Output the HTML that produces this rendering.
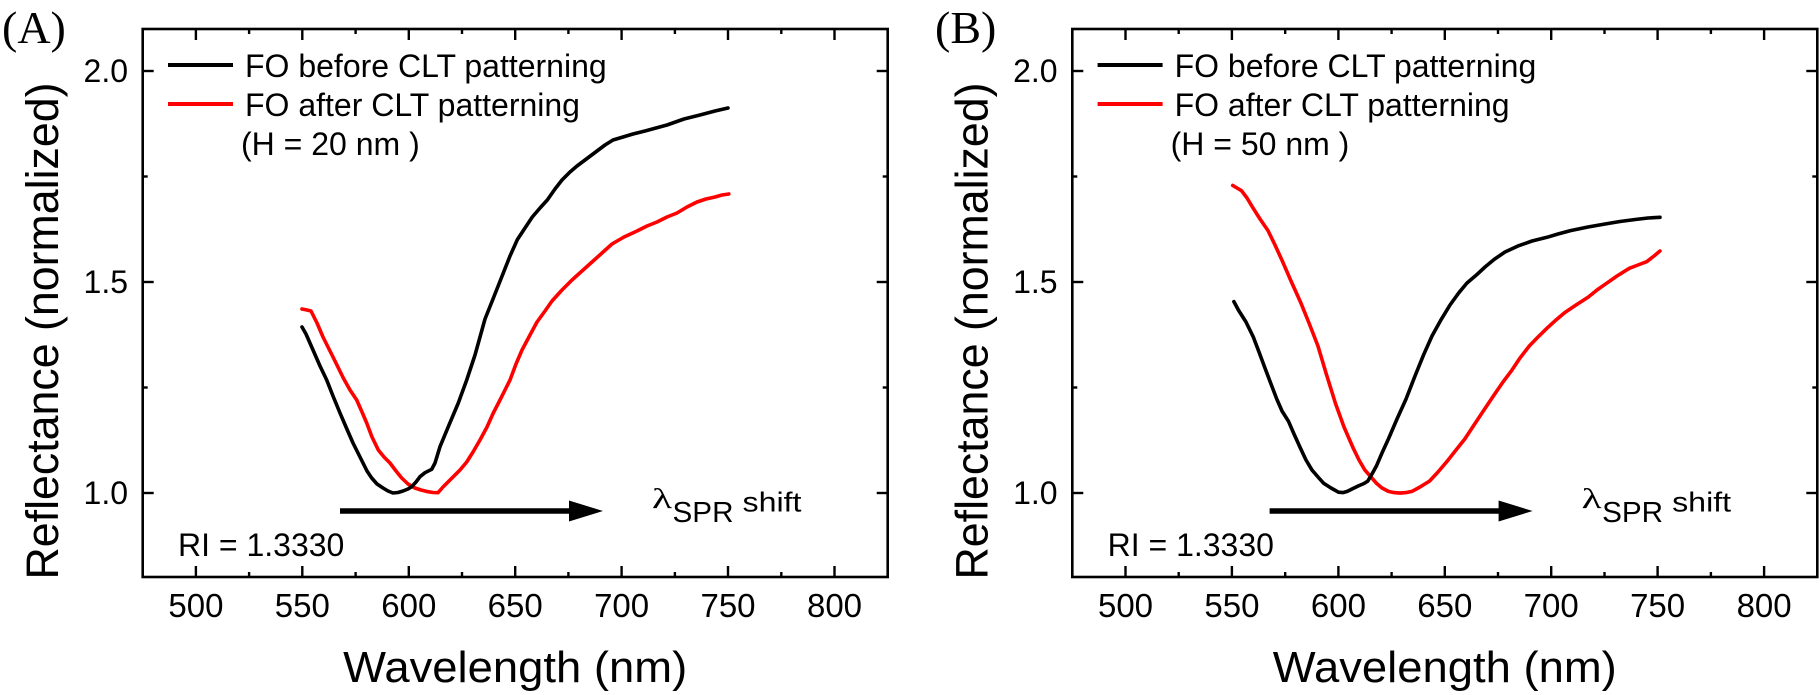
<!DOCTYPE html>
<html>
<head>
<meta charset="utf-8">
<style>
  html, body { margin:0; padding:0; background:#fff; }
  svg { display:block; }
  .s { font-family: "Liberation Sans", Arial, sans-serif; fill:#000; }
  .serif { font-family: "Liberation Serif", "Times New Roman", serif; fill:#000; }
</style>
</head>
<body>
<svg width="1820" height="695" viewBox="0 0 1820 695" xmlns="http://www.w3.org/2000/svg">
  <rect x="0" y="0" width="1820" height="695" fill="#fff"/>

  <!-- ================= PANEL A ================= -->
  <g>
    <text class="serif" x="2" y="43" font-size="46">(A)</text>
    <rect x="142.7" y="29" width="745" height="548" fill="none" stroke="#000" stroke-width="2.6"/>
    <g stroke="#000" stroke-width="2.4">
      <line x1="195.9" y1="577" x2="195.9" y2="566"/>
      <line x1="249.1" y1="577" x2="249.1" y2="572"/>
      <line x1="302.3" y1="577" x2="302.3" y2="566"/>
      <line x1="355.6" y1="577" x2="355.6" y2="572"/>
      <line x1="408.8" y1="577" x2="408.8" y2="566"/>
      <line x1="462.0" y1="577" x2="462.0" y2="572"/>
      <line x1="515.2" y1="577" x2="515.2" y2="566"/>
      <line x1="568.4" y1="577" x2="568.4" y2="572"/>
      <line x1="621.6" y1="577" x2="621.6" y2="566"/>
      <line x1="674.9" y1="577" x2="674.9" y2="572"/>
      <line x1="728.0" y1="577" x2="728.0" y2="566"/>
      <line x1="781.3" y1="577" x2="781.3" y2="572"/>
      <line x1="834.5" y1="577" x2="834.5" y2="566"/>
      <line x1="195.9" y1="29" x2="195.9" y2="40"/>
      <line x1="249.1" y1="29" x2="249.1" y2="34"/>
      <line x1="302.3" y1="29" x2="302.3" y2="40"/>
      <line x1="355.6" y1="29" x2="355.6" y2="34"/>
      <line x1="408.8" y1="29" x2="408.8" y2="40"/>
      <line x1="462.0" y1="29" x2="462.0" y2="34"/>
      <line x1="515.2" y1="29" x2="515.2" y2="40"/>
      <line x1="568.4" y1="29" x2="568.4" y2="34"/>
      <line x1="621.6" y1="29" x2="621.6" y2="40"/>
      <line x1="674.9" y1="29" x2="674.9" y2="34"/>
      <line x1="728.0" y1="29" x2="728.0" y2="40"/>
      <line x1="781.3" y1="29" x2="781.3" y2="34"/>
      <line x1="834.5" y1="29" x2="834.5" y2="40"/>
      <line x1="142.7" y1="493" x2="153.7" y2="493"/>
      <line x1="142.7" y1="387.5" x2="147.7" y2="387.5"/>
      <line x1="142.7" y1="282" x2="153.7" y2="282"/>
      <line x1="142.7" y1="176.5" x2="147.7" y2="176.5"/>
      <line x1="142.7" y1="71" x2="153.7" y2="71"/>
      <line x1="887.7" y1="493" x2="876.7" y2="493"/>
      <line x1="887.7" y1="387.5" x2="882.7" y2="387.5"/>
      <line x1="887.7" y1="282" x2="876.7" y2="282"/>
      <line x1="887.7" y1="176.5" x2="882.7" y2="176.5"/>
      <line x1="887.7" y1="71" x2="876.7" y2="71"/>
    </g>
    <g class="s" font-size="33" text-anchor="middle">
      <text x="195.9" y="617">500</text>
      <text x="302.3" y="617">550</text>
      <text x="408.8" y="617">600</text>
      <text x="515.2" y="617">650</text>
      <text x="621.6" y="617">700</text>
      <text x="728.0" y="617">750</text>
      <text x="834.5" y="617">800</text>
    </g>
    <g class="s" font-size="32" text-anchor="end">
      <text x="128" y="82">2.0</text>
      <text x="128" y="293">1.5</text>
      <text x="128" y="504">1.0</text>
    </g>
    <text class="s" x="515.2" y="682" font-size="44" text-anchor="middle" textLength="344" lengthAdjust="spacingAndGlyphs">Wavelength (nm)</text>
    <text class="s" font-size="45" text-anchor="middle" transform="translate(58,331) rotate(-90)" textLength="497" lengthAdjust="spacingAndGlyphs">Reflectance (normalized)</text>
    <line x1="168" y1="65" x2="233" y2="65" stroke="#000" stroke-width="4"/>
    <line x1="168" y1="104" x2="233" y2="104" stroke="#ff0000" stroke-width="4"/>
    <text class="s" x="245" y="77" font-size="32">FO before CLT patterning</text>
    <text class="s" x="245" y="116" font-size="32">FO after CLT patterning</text>
    <text class="s" x="241" y="155" font-size="32">(H = 20 nm )</text>
    <text class="s" x="178" y="556" font-size="32">RI = 1.3330</text>
    <line x1="340" y1="511" x2="574" y2="511" stroke="#000" stroke-width="5.5"/>
    <polygon points="569,500.5 603,511 569,521.5" fill="#000"/>
    <text class="serif" x="652" y="508" font-size="29" textLength="20" lengthAdjust="spacingAndGlyphs">λ</text>
    <text class="s" x="672.5" y="522" font-size="29" textLength="61" lengthAdjust="spacingAndGlyphs">SPR</text>
    <text class="s" x="742.5" y="511.5" font-size="28" textLength="59" lengthAdjust="spacingAndGlyphs">shift</text>
  </g>

  <polyline fill="none" stroke="#ff0000" stroke-width="3.6" stroke-linejoin="round" stroke-linecap="round"
    points="302,309 307,310 311,311 317,323 323,337 333,357 343.3,378 350,390 356.7,400 362,412 366.7,423 372,437 378.3,450 384,457 390,463 396,471 401.7,478 408,484 415,488 421,490 428,491.7 433,492.5 438,492.7 443,487 448,482 453,477 460,470 466.7,462 473,452 480,440 487,427 493.3,413 500,400 505,390 510,380 516,364 522,350 530,335 537,322 545,311 552,301 562,290 572,280 582,271 592,262 602,253 612,244 624,237 637,231 647,226 657,222 667,217 677,213 687,207 697,202 706,199 715,197 722,195 728.8,194"/>
  <polyline fill="none" stroke="#000" stroke-width="3.6" stroke-linejoin="round" stroke-linecap="round"
    points="302,327 306,334 313,350 320,366 326.7,380 333,396 340,413 346,427 353,443 358,453 363,463 367,471 371.7,478 377,484 383,488 388,491 393,493 398,492.5 403,491 408,489 411.7,486.7 416,482 420,476.7 425,472.7 431.7,469.3 435,463 440,446.7 448.3,426.7 458.3,403 466.7,380 475,355 485,319 493,299 502.5,275 510,256 517.4,239.5 525,228 532.3,217 540,208 547.3,200 555,189 562,180 570,172 577,166 585,160 597,151 605,145 613,140 623,137 633,134 645,131 656,128 667,125 684,119 700,115 715,111 728,108"/>

  <!-- ================= PANEL B ================= -->
  <g>
    <text class="serif" x="935" y="43" font-size="46">(B)</text>
    <rect x="1072.3" y="29" width="745" height="548" fill="none" stroke="#000" stroke-width="2.6"/>
    <g stroke="#000" stroke-width="2.4" transform="translate(929.6,0)">
      <line x1="195.9" y1="577" x2="195.9" y2="566"/>
      <line x1="249.1" y1="577" x2="249.1" y2="572"/>
      <line x1="302.3" y1="577" x2="302.3" y2="566"/>
      <line x1="355.6" y1="577" x2="355.6" y2="572"/>
      <line x1="408.8" y1="577" x2="408.8" y2="566"/>
      <line x1="462.0" y1="577" x2="462.0" y2="572"/>
      <line x1="515.2" y1="577" x2="515.2" y2="566"/>
      <line x1="568.4" y1="577" x2="568.4" y2="572"/>
      <line x1="621.6" y1="577" x2="621.6" y2="566"/>
      <line x1="674.9" y1="577" x2="674.9" y2="572"/>
      <line x1="728.0" y1="577" x2="728.0" y2="566"/>
      <line x1="781.3" y1="577" x2="781.3" y2="572"/>
      <line x1="834.5" y1="577" x2="834.5" y2="566"/>
      <line x1="195.9" y1="29" x2="195.9" y2="40"/>
      <line x1="249.1" y1="29" x2="249.1" y2="34"/>
      <line x1="302.3" y1="29" x2="302.3" y2="40"/>
      <line x1="355.6" y1="29" x2="355.6" y2="34"/>
      <line x1="408.8" y1="29" x2="408.8" y2="40"/>
      <line x1="462.0" y1="29" x2="462.0" y2="34"/>
      <line x1="515.2" y1="29" x2="515.2" y2="40"/>
      <line x1="568.4" y1="29" x2="568.4" y2="34"/>
      <line x1="621.6" y1="29" x2="621.6" y2="40"/>
      <line x1="674.9" y1="29" x2="674.9" y2="34"/>
      <line x1="728.0" y1="29" x2="728.0" y2="40"/>
      <line x1="781.3" y1="29" x2="781.3" y2="34"/>
      <line x1="834.5" y1="29" x2="834.5" y2="40"/>
      <line x1="142.7" y1="493" x2="153.7" y2="493"/>
      <line x1="142.7" y1="387.5" x2="147.7" y2="387.5"/>
      <line x1="142.7" y1="282" x2="153.7" y2="282"/>
      <line x1="142.7" y1="176.5" x2="147.7" y2="176.5"/>
      <line x1="142.7" y1="71" x2="153.7" y2="71"/>
      <line x1="887.7" y1="493" x2="876.7" y2="493"/>
      <line x1="887.7" y1="387.5" x2="882.7" y2="387.5"/>
      <line x1="887.7" y1="282" x2="876.7" y2="282"/>
      <line x1="887.7" y1="176.5" x2="882.7" y2="176.5"/>
      <line x1="887.7" y1="71" x2="876.7" y2="71"/>
    </g>
    <g class="s" font-size="33" text-anchor="middle">
      <text x="1125.5" y="617">500</text>
      <text x="1231.9" y="617">550</text>
      <text x="1338.4" y="617">600</text>
      <text x="1444.8" y="617">650</text>
      <text x="1551.2" y="617">700</text>
      <text x="1657.6" y="617">750</text>
      <text x="1764.1" y="617">800</text>
    </g>
    <g class="s" font-size="32" text-anchor="end">
      <text x="1057.6" y="82">2.0</text>
      <text x="1057.6" y="293">1.5</text>
      <text x="1057.6" y="504">1.0</text>
    </g>
    <text class="s" x="1444.8" y="682" font-size="44" text-anchor="middle" textLength="344" lengthAdjust="spacingAndGlyphs">Wavelength (nm)</text>
    <text class="s" font-size="45" text-anchor="middle" transform="translate(987.6,331) rotate(-90)" textLength="497" lengthAdjust="spacingAndGlyphs">Reflectance (normalized)</text>
    <line x1="1097.6" y1="65" x2="1162.6" y2="65" stroke="#000" stroke-width="4"/>
    <line x1="1097.6" y1="104" x2="1162.6" y2="104" stroke="#ff0000" stroke-width="4"/>
    <text class="s" x="1174.6" y="77" font-size="32">FO before CLT patterning</text>
    <text class="s" x="1174.6" y="116" font-size="32">FO after CLT patterning</text>
    <text class="s" x="1170.6" y="155" font-size="32">(H = 50 nm )</text>
    <text class="s" x="1107.6" y="556" font-size="32">RI = 1.3330</text>
    <line x1="1269.6" y1="511" x2="1503.6" y2="511" stroke="#000" stroke-width="5.5"/>
    <polygon points="1498.6,500.5 1532.6,511 1498.6,521.5" fill="#000"/>
    <text class="serif" x="1581.6" y="508" font-size="29" textLength="20" lengthAdjust="spacingAndGlyphs">λ</text>
    <text class="s" x="1602.1" y="522" font-size="29" textLength="61" lengthAdjust="spacingAndGlyphs">SPR</text>
    <text class="s" x="1672.1" y="511.5" font-size="28" textLength="59" lengthAdjust="spacingAndGlyphs">shift</text>
  </g>

  <polyline fill="none" stroke="#ff0000" stroke-width="3.6" stroke-linejoin="round" stroke-linecap="round"
    points="1232.7,185.4 1237,188 1241.5,190.7 1247,198 1253.3,208.4 1260,219 1268,230.6 1275,245 1282.6,261.6 1291,281 1300.3,301.6 1309,323 1317.9,345.9 1326,373 1335.5,403.5 1344,427 1353.1,447.9 1359,460 1364.9,470.1 1371,477 1376.6,483.4 1382,488 1388.4,491.4 1394,492.6 1400.1,493.1 1406,492.6 1411.9,491.4 1420,487 1429.5,481.1 1438,472 1447.2,461.2 1456,450 1464.8,439 1474,425 1482.4,412.4 1494.2,394.7 1503,382 1511.8,370.3 1520,358 1529.4,345.9 1538,337 1547,328.2 1556,320 1564.7,312.6 1576,305 1588.2,297.1 1597,290 1605.8,283.8 1617,276 1629.3,268.3 1638,265 1646.9,261.6 1654,256 1660,251"/>
  <polyline fill="none" stroke="#000" stroke-width="3.6" stroke-linejoin="round" stroke-linecap="round"
    points="1233.9,301.6 1238.6,310.4 1246,322 1253.3,337 1259,352 1265,368.1 1271,384 1276.8,399.1 1282,411 1288.5,421.3 1294,434 1300.3,447.9 1306,460 1312,470.1 1318,477 1323.8,483.4 1331,488 1338.5,492.2 1343,492.6 1347.3,491.4 1353,488.5 1359,485.6 1364,483.5 1367.8,481.1 1372,474 1376.6,465.6 1382,453 1388.4,439 1397,419 1406,399.1 1415,376 1423.6,354.8 1432,336 1441.3,319.3 1450,305 1458.9,292.7 1467,283 1476.5,274.9 1485,267 1494.2,259.4 1505,252 1517.7,246.1 1532,241 1547,237.3 1558,234 1570.5,230.6 1588,227 1605.8,223.9 1620,221.5 1635.2,219.5 1648,218 1660,217.3"/>
</svg>
</body>
</html>
